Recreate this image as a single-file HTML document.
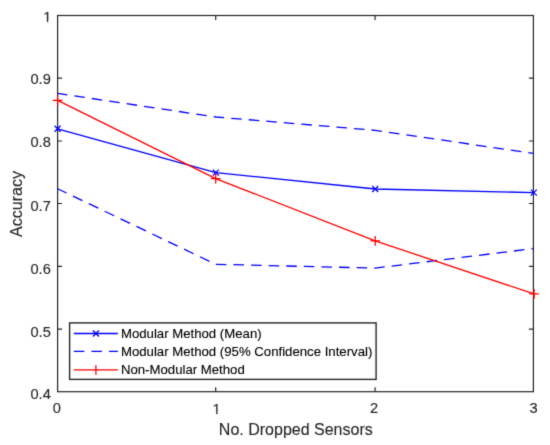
<!DOCTYPE html>
<html>
<head>
<meta charset="utf-8">
<style>
html,body{margin:0;padding:0;background:#fff;}
body{width:550px;height:445px;overflow:hidden;}
svg{display:block;}
.lg text{fill:#000;stroke:#000;}
text{font-family:"Liberation Sans",Arial,Helvetica,sans-serif;fill:#262626;stroke:#262626;stroke-width:0.12px;}
</style>
</head>
<body>
<svg width="550" height="445" viewBox="0 0 550 445">
<defs><filter id="soft" filterUnits="userSpaceOnUse" x="0" y="0" width="550" height="445" color-interpolation-filters="sRGB"><feConvolveMatrix order="3" kernelMatrix="0.02 0.08 0.02 0.08 0.60 0.08 0.02 0.08 0.02" divisor="1" edgeMode="duplicate"/></filter></defs>
<rect x="0" y="0" width="550" height="445" fill="#fff"/>
<g filter="url(#soft)">

<!-- axes box -->
<g stroke="#262626" stroke-width="1.2" fill="none">
  <rect x="57.6" y="15.5" width="475.8" height="376.2"/>
  <!-- x ticks bottom/top -->
  <path d="M215.7,391.7 v-4.5 M375.1,391.7 v-4.5 M215.7,15.5 v4.5 M375.1,15.5 v4.5"/>
  <!-- y ticks left/right -->
  <path d="M57.6,78.2 h4.5 M57.6,141 h4.5 M57.6,203.5 h4.5 M57.6,266.4 h4.5 M57.6,329.2 h4.5
           M533.4,78.2 h-4.5 M533.4,141 h-4.5 M533.4,203.5 h-4.5 M533.4,266.4 h-4.5 M533.4,329.2 h-4.5"/>
</g>

<!-- data lines -->
<g fill="none" stroke-width="1.3" stroke-linejoin="round">
  <!-- mean -->
  <polyline stroke="#0000ff" points="57.6,128.8 215.8,172.6 375.2,189.0 533.8,192.6"/>
  <!-- CI upper -->
  <polyline stroke="#0000ff" stroke-dasharray="10.5 7.1" stroke-dashoffset="0.6" points="57.6,93.4 215.7,117.0 375.2,130.3 533.4,153.4"/>
  <!-- CI lower -->
  <polyline stroke="#0000ff" stroke-dasharray="10.5 7.1" stroke-dashoffset="0.6" points="57.6,188.75 215.7,264.3 375.2,268.1 533.4,248.6"/>
  <!-- non-modular -->
  <polyline stroke="#ff0000" points="57.6,100.4 215.7,178.6 375.2,240.9 534.1,293.9"/>
</g>
<!-- markers -->
<g stroke="#0000ff" stroke-width="1.3" fill="none">
  <path d="M54.6,125.8 l6.0,6.0 M54.6,131.8 l6.0,-6.0"/>
  <path d="M212.8,169.6 l6.0,6.0 M212.8,175.6 l6.0,-6.0"/>
  <path d="M372.2,186.0 l6.0,6.0 M372.2,192.0 l6.0,-6.0"/>
  <path d="M530.8,189.6 l6.0,6.0 M530.8,195.6 l6.0,-6.0"/>
</g>
<g stroke="#ff0000" stroke-width="1.3" fill="none">
  <path d="M52.8,100.4 h9.6 M57.6,95.6 v9.6"/>
  <path d="M210.9,178.6 h9.6 M215.7,173.8 v9.6"/>
  <path d="M370.4,240.9 h9.6 M375.2,236.1 v9.6"/>
  <path d="M529.3,293.9 h9.6 M534.1,289.1 v9.6"/>
</g>

<!-- y tick labels -->
<g font-size="14.67" text-anchor="end">
  <text x="51.3" y="21.9">1</text>
  <text x="50.8" y="84.3">0.9</text>
  <text x="50.8" y="146.9">0.8</text>
  <text x="50.8" y="210.8">0.7</text>
  <text x="50.8" y="273.7">0.6</text>
  <text x="50.8" y="336.5">0.5</text>
  <text x="50.8" y="399">0.4</text>
</g>
<!-- x tick labels -->
<g font-size="14.67" text-anchor="middle">
  <text x="56.9" y="413.4">0</text>
  <text x="216.7" y="413.5">1</text>
  <text x="374.0" y="413.3">2</text>
  <text x="533.5" y="412.9">3</text>
</g>

<!-- hide base serif of "1" (Arial-style one) -->
<g fill="#fff">
  <rect x="43.0" y="20.0" width="3.8" height="2.0"/><rect x="48.3" y="20.0" width="2.7" height="2.0"/>
  <rect x="212.5" y="412.0" width="3.6" height="2.0"/><rect x="217.6" y="412.0" width="2.9" height="2.0"/>
</g>
<!-- axis labels -->
<text x="295.8" y="435" font-size="16" text-anchor="middle">No. Dropped Sensors</text>
<text transform="translate(21.5,204) rotate(-90)" font-size="16" text-anchor="middle">Accuracy</text>

<!-- legend -->
<rect x="69.6" y="322.9" width="306.5" height="56.5" fill="#fff" stroke="#262626" stroke-width="1.4"/>
<g fill="none" stroke-width="1.3">
  <path stroke="#0000ff" d="M73.8,333.5 H117.9"/>
  <path stroke="#0000ff" d="M92.9,330.5 l6,6 M92.9,336.5 l6,-6"/>
  <path stroke="#0000ff" stroke-dasharray="10.5 7.1" d="M73.8,351.3 H117.9"/>
  <path stroke="#ff0000" d="M73.8,369.9 H117.9 M95.9,365.2 v9.5"/>
</g>
<g font-size="13.2" class="lg">
  <text x="120.9" y="338.3">Modular Method (Mean)</text>
  <text x="120.9" y="356.0">Modular Method (95% Confidence Interval)</text>
  <text x="120.9" y="374.1">Non-Modular Method</text>
</g>
</g>
</svg>
</body>
</html>
